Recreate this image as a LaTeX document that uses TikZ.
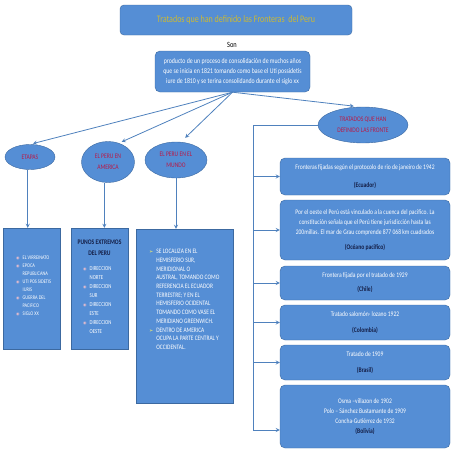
\documentclass[tikz,border=0pt]{standalone}
\usepackage{fontspec}
\setmainfont{Carlito}[FakeStretch=0.8]
\newfontfamily\dejavu{DejaVu Sans}
\usepackage{tikz}
\usetikzlibrary{arrows,shapes.geometric}
\definecolor{fillblue}{RGB}{85,142,213}
\definecolor{edgeblue}{RGB}{60,105,160}
\definecolor{linkblue}{RGB}{79,129,189}
\definecolor{titlegold}{RGB}{205,185,50}
\definecolor{bubblered}{RGB}{185,25,70}
\definecolor{darknavy}{RGB}{20,30,70}
\definecolor{dotpink}{RGB}{235,190,205}
\newcommand{\sz}[2]{\fontsize{#1}{#2}\selectfont}
\newcommand{\bul}{{\dejavu\sz{4}{5}\textcolor{dotpink}{◉}}}
\newcommand{\pnt}{{\dejavu\sz{5}{6}\textcolor{yellow!60!white}{➢}}}
\newcommand{\pais}[1]{{\bfseries\color{darknavy}(#1)}}

\begin{document}
\begin{tikzpicture}[x=1pt,y=-1pt,
    box/.style={rectangle, draw=edgeblue, fill=fillblue, inner sep=0pt},
    rbox/.style={box, rounded corners=5pt, text=white, align=center, font=\sz{7}{10}},
    bubble/.style={ellipse, draw=edgeblue, fill=fillblue, inner sep=0pt,
      text=bubblered, align=center, font=\sz{7}{11}},
    list/.style={inner sep=0pt, anchor=north west, text=white},
    link/.style={draw=linkblue, line width=0.8pt, >=stealth}]
  \useasboundingbox (0,0) rectangle (453,453);

  \node (1) [box, rounded corners=4pt, minimum width=232pt, minimum height=30pt,
    text=titlegold, font=\sz{10}{12}] at (236,20)
    {Tratados que han definido las Fronteras\ \ del Peru};
  \node (son) [font=\sz{8}{10}] at (232,45) {Son};
  \node (2) [rbox, minimum width=155pt, minimum height=41pt, font=\sz{7.3}{10}] at (232.5,71.5)
    {producto de un proceso de consolidación de muchos años\\
     que se inicia en 1821 tomando como base el Uti possidetis\\
     iure de 1810 y se terina consolidando durante el siglo xx};

  \node (3) [bubble, minimum width=50pt, minimum height=25pt] at (30,157) {ETAPAS};
  \node (4) [bubble, minimum width=53pt, minimum height=41pt] at (108,162)
    {EL PERU EN\\AMERICA};
  \node (5) [bubble, minimum width=62pt, minimum height=36pt] at (176,160)
    {EL PERU EN EL\\MUNDO};
  \node (6) [bubble, minimum width=90pt, minimum height=36pt] at (363,125)
    {TRATADOS QUE HAN\\DEFINIDO LAS FRONTE};

  \node (7) [box, minimum width=57pt, minimum height=121pt] at (31.5,288.5) {};
  \node (8) [box, minimum width=57pt, minimum height=121pt] at (99.5,288.5) {};
  \node (9) [box, minimum width=97pt, minimum height=174pt] at (184.5,316) {};

  \node (7t) [list, font=\sz{5.5}{7.9}] at (16,254)
    {\begin{tabular}{@{}c@{\hspace{3pt}}l@{}}
      \bul & EL VIRREINATO\\
      \bul & EPOCA\\
           & REPUBLICANA\\
      \bul & UTI POS SIDETIS\\
           & IURIS\\
      \bul & GUERRA DEL\\
           & PACIFICO\\
      \bul & SIGLO XX
    \end{tabular}};
  \node (8h) [inner sep=0pt, align=center, text=darknavy, font=\bfseries\sz{7}{11}] at (99.5,247.5)
    {PUNOS EXTREMOS\\DEL PERU};
  \node (8t) [list, font=\sz{6}{9.1}] at (83,263.5)
    {\begin{tabular}{@{}c@{\hspace{3pt}}l@{}}
      \bul & DIRECCION\\
           & NORTE\\
      \bul & DIRECCION\\
           & SUR\\
      \bul & DIRECCION\\
           & ESTE\\
      \bul & DIRECCION\\
           & OESTE
    \end{tabular}};
  \node (9t) [list, font=\sz{6.8}{8.7}] at (149,247.5)
    {\begin{tabular}{@{}c@{\hspace{3pt}}l@{}}
      \pnt & SE LOCALIZA EN EL\\
           & HEMISFERIO SUR,\\
           & MERIDIONAL O\\
           & AUSTRAL, TOMANDO COMO\\
           & REFERENCIA EL ECUADOR\\
           & TERRESTRE; Y EN EL\\
           & HEMISFERIO OCIDENTAL\\
           & TOMANDO COMO VASE EL\\
           & MERIDIANO GREENWICH.\\
      \pnt & DENTRO DE AMERICA\\
           & OCUPA LA PARTE CENTRAL Y\\
           & OCCIDENTAL.
    \end{tabular}};

  \node (10) [rbox, minimum width=170pt, minimum height=37pt] at (365,176.5)
    {Fronteras fijadas según el protocolo de rio de janeiro de 1942\\[8pt]\pais{Ecuador}};
  \node (11) [rbox, minimum width=170pt, minimum height=60pt] at (365,230)
    {Por el oeste el Perú está vinculado a la cuenca del pacifico. La\\
     constitución señala que el Perú tiene jurisdicción hasta las\\
     200millas. El mar de Grau comprende 877 068 km cuadrados\\[5pt]\pais{Océano pacifico}};
  \node (12) [rbox, minimum width=170pt, minimum height=34pt] at (365,283)
    {Frontera fijada por el tratado de 1929\\[4pt]\pais{Chile}};
  \node (13) [rbox, minimum width=170pt, minimum height=35pt] at (365,322.5)
    {Tratado salomón- lozano 1922\\[6pt]\pais{Colombia}};
  \node (14) [rbox, minimum width=170pt, minimum height=35pt] at (365,362.5)
    {Tratado de 1909\\[6pt]\pais{Brasil}};
  \node (15) [rbox, minimum width=170pt, minimum height=63pt] at (365,416.5)
    {Osma –villazon de 1902\\Polo – Sánchez Bustamante de 1909\\
     Concha-Gutiérrez de 1932\\\pais{Bolivia}};

  \coordinate (r1) at (253,125);
  \coordinate (r2) at (253,430);

  \draw [link, ->, shorten >=3pt] (2.south) to (3.north);
  \draw [link, ->, shorten >=3pt] (2.south) to (4.60);
  \draw [link, ->, shorten >=6pt] (2.south) to (5.75);
  \draw [link, ->, shorten >=6pt] (2.south) to (6.100);
  \draw [link, ->] (3.-100) to (3.-100 |- 7.north);
  \draw [link, ->] (4.-100) to (4.-100 |- 8.north);
  \draw [link, ->] (5.south) to (5.south |- 9.north);
  \draw [link] (6.west) -- (r1) -- (r2);
  \foreach \k in {10,...,14}
    \draw [link, ->] (r1 |- \k.west) to (\k.west);
  \draw [link, ->] (r2) to (r2 -| 15.west);
\end{tikzpicture}
\end{document}
